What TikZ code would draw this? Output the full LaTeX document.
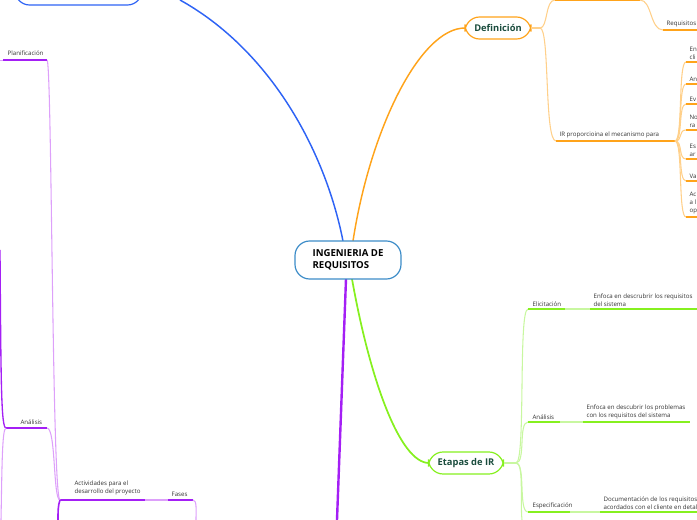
\documentclass[tikz,border=0pt]{standalone}
\usepackage{fontspec}
\setmainfont{Open Sans}
\begin{document}
\begin{tikzpicture}[x=0.75pt,y=-0.75pt,
  main/.style={draw=#1,line width=0.9pt,rounded corners=11pt,fill=white},
  lbl/.style={font=\fontsize{4.6}{6}\selectfont,text=black!80,anchor=south west,inner sep=1pt,align=left},
  topic/.style={font=\bfseries\fontsize{7}{8}\selectfont,text=tgreen}]
\definecolor{cblue}{HTML}{2E63F5}
\definecolor{corange}{HTML}{FFA31A}
\definecolor{lorange}{HTML}{FFD08A}
\definecolor{cgreen}{HTML}{86F01F}
\definecolor{lgreen}{HTML}{C8F7A0}
\definecolor{cpurple}{HTML}{A41FF5}
\definecolor{lpurple}{HTML}{DDA0FA}
\definecolor{tgreen}{HTML}{1B4D3E}
\definecolor{cnode}{HTML}{3C8CC8}
\useasboundingbox (0,0) rectangle (697,520);
% blue
\draw[main=cblue] (15,-25) rectangle (142,5);
\coordinate (bq) at (180,0);
\draw[cblue,line width=1.1pt] (bq) .. controls (270,50) and (325,150) .. (343,241);
% purple main
\draw[cpurple,line width=1.8pt] (346,279) -- (337,520);
% green main
\draw[cgreen,line width=1.3pt] (352,279) .. controls (370,380) and (400,463) .. (429,463);
% orange main
\draw[corange,line width=1.1pt] (353,241) .. controls (370,130) and (420,28) .. (465,28);
% center
\node[main=cnode,minimum width=106pt*0.75,minimum height=38pt*0.75,align=left,font=\bfseries\fontsize{7.2}{9}\selectfont,inner xsep=12pt] (c) at (348,260) {INGENIERIA DE\\REQUISITOS};
% Definicion
\node[main=corange,topic,minimum width=66*0.75pt,minimum height=22*0.75pt] (def) at (498,28) {Definición};
\draw[lorange,line width=0.8pt] (531,28) -- (540,28);
\draw[lorange,line width=0.8pt] (540,28) .. controls (548,28) and (545,0) .. (555,0);
\draw[corange,line width=1.4pt] (555,0) -- (640,0);
\draw[lorange,line width=0.8pt] (640,0) .. controls (652,0) and (650,30) .. (663,30);
\draw[corange,line width=1.1pt] (663,30) -- (697,30);
\node[lbl] at (665,29) {Requisitos};
\draw[lorange,line width=0.8pt] (540,28) .. controls (550,28) and (544,141) .. (556,141);
\draw[corange,line width=1.1pt] (556,141) -- (675,141);
\node[lbl] at (558,140) {IR proporcioina el mecanismo para};
\foreach \y/\t in {62/{En\\cli},84/{An},104/{Ev},130/{No\\ra},159/{Es\\ar},181/{Va},217/{Ac\\a l\\op}}{
  \draw[lorange,line width=0.8pt] (675,141) .. controls (683,141) and (678,\y) .. (686,\y);
  \draw[corange,line width=1.1pt] (686,\y) -- (697,\y);
  \node[lbl] at (688,\y-1) {\t};
}
% Etapas
\node[main=cgreen,topic,minimum width=75*0.75pt,minimum height=22*0.75pt] (et) at (466,463) {Etapas de IR};
\draw[lgreen,line width=0.8pt] (504,463) -- (516,463);
\foreach \y/\a/\b/\c/\ta/\tb in {309/565/590/697/Elicitación/{Enfoca en descrubrir los requisitos\\del sistema},
  422/560/583/690/Análisis/{Enfoca en descubrir los problemas\\con los requisitos del sistema},
  512/570/600/697/Especificación/{Documentación de los requisitos\\acordados con el cliente en detal}}{
  \draw[lgreen,line width=0.8pt] (516,463) .. controls (526,463) and (518,\y) .. (528,\y);
  \draw[cgreen,line width=1.2pt] (528,\y) -- (\a,\y);
  \draw[lgreen,line width=0.8pt] (\a,\y) -- (\b,\y);
  \draw[cgreen,line width=1.2pt] (\b,\y) -- (\c,\y);
  \node[lbl] at (531,\y-1) {\ta};
  \node[lbl] at (\b+2,\y-1) {\tb};
}
\draw[lgreen,line width=0.8pt] (516,463) .. controls (524,463) and (520,500) .. (522,520);
% left purple tree
\draw[cpurple,line width=1.4pt] (60,500) -- (145,500);
\draw[lpurple,line width=0.8pt] (145,500) -- (168,500);
\draw[cpurple,line width=1.4pt] (168,500) -- (193,500);
\draw[lpurple,line width=0.8pt] (193,500) .. controls (197,500) and (196,510) .. (196,520);
\node[lbl] at (73,497) {Actividades para el\\desarrollo del proyecto};
\node[lbl] at (170,498) {Fases};
\draw[lpurple,line width=0.8pt] (60,500) .. controls (52,500) and (52,60) .. (47,60);
\draw[cpurple,line width=1.2pt] (47,60) -- (3,60);
\draw[lpurple,line width=0.6pt] (3,60) -- (0,60);
\node[lbl] at (6,57) {Planificación};
\draw[lpurple,line width=0.8pt] (60,500) .. controls (53,500) and (56,428) .. (47,428);
\draw[cpurple,line width=1.2pt] (47,428) -- (6,428);
\node[lbl] at (19,426) {Análisis};
\draw[cpurple,line width=1pt] (6,428) .. controls (1,428) and (1,380) .. (0,250);
\draw[lpurple,line width=0.8pt] (6,428) .. controls (2,428) and (2,470) .. (1,520);
\draw[cpurple,line width=1.2pt] (60,500) .. controls (58,505) and (58,512) .. (58,520);
\end{tikzpicture}
\end{document}
